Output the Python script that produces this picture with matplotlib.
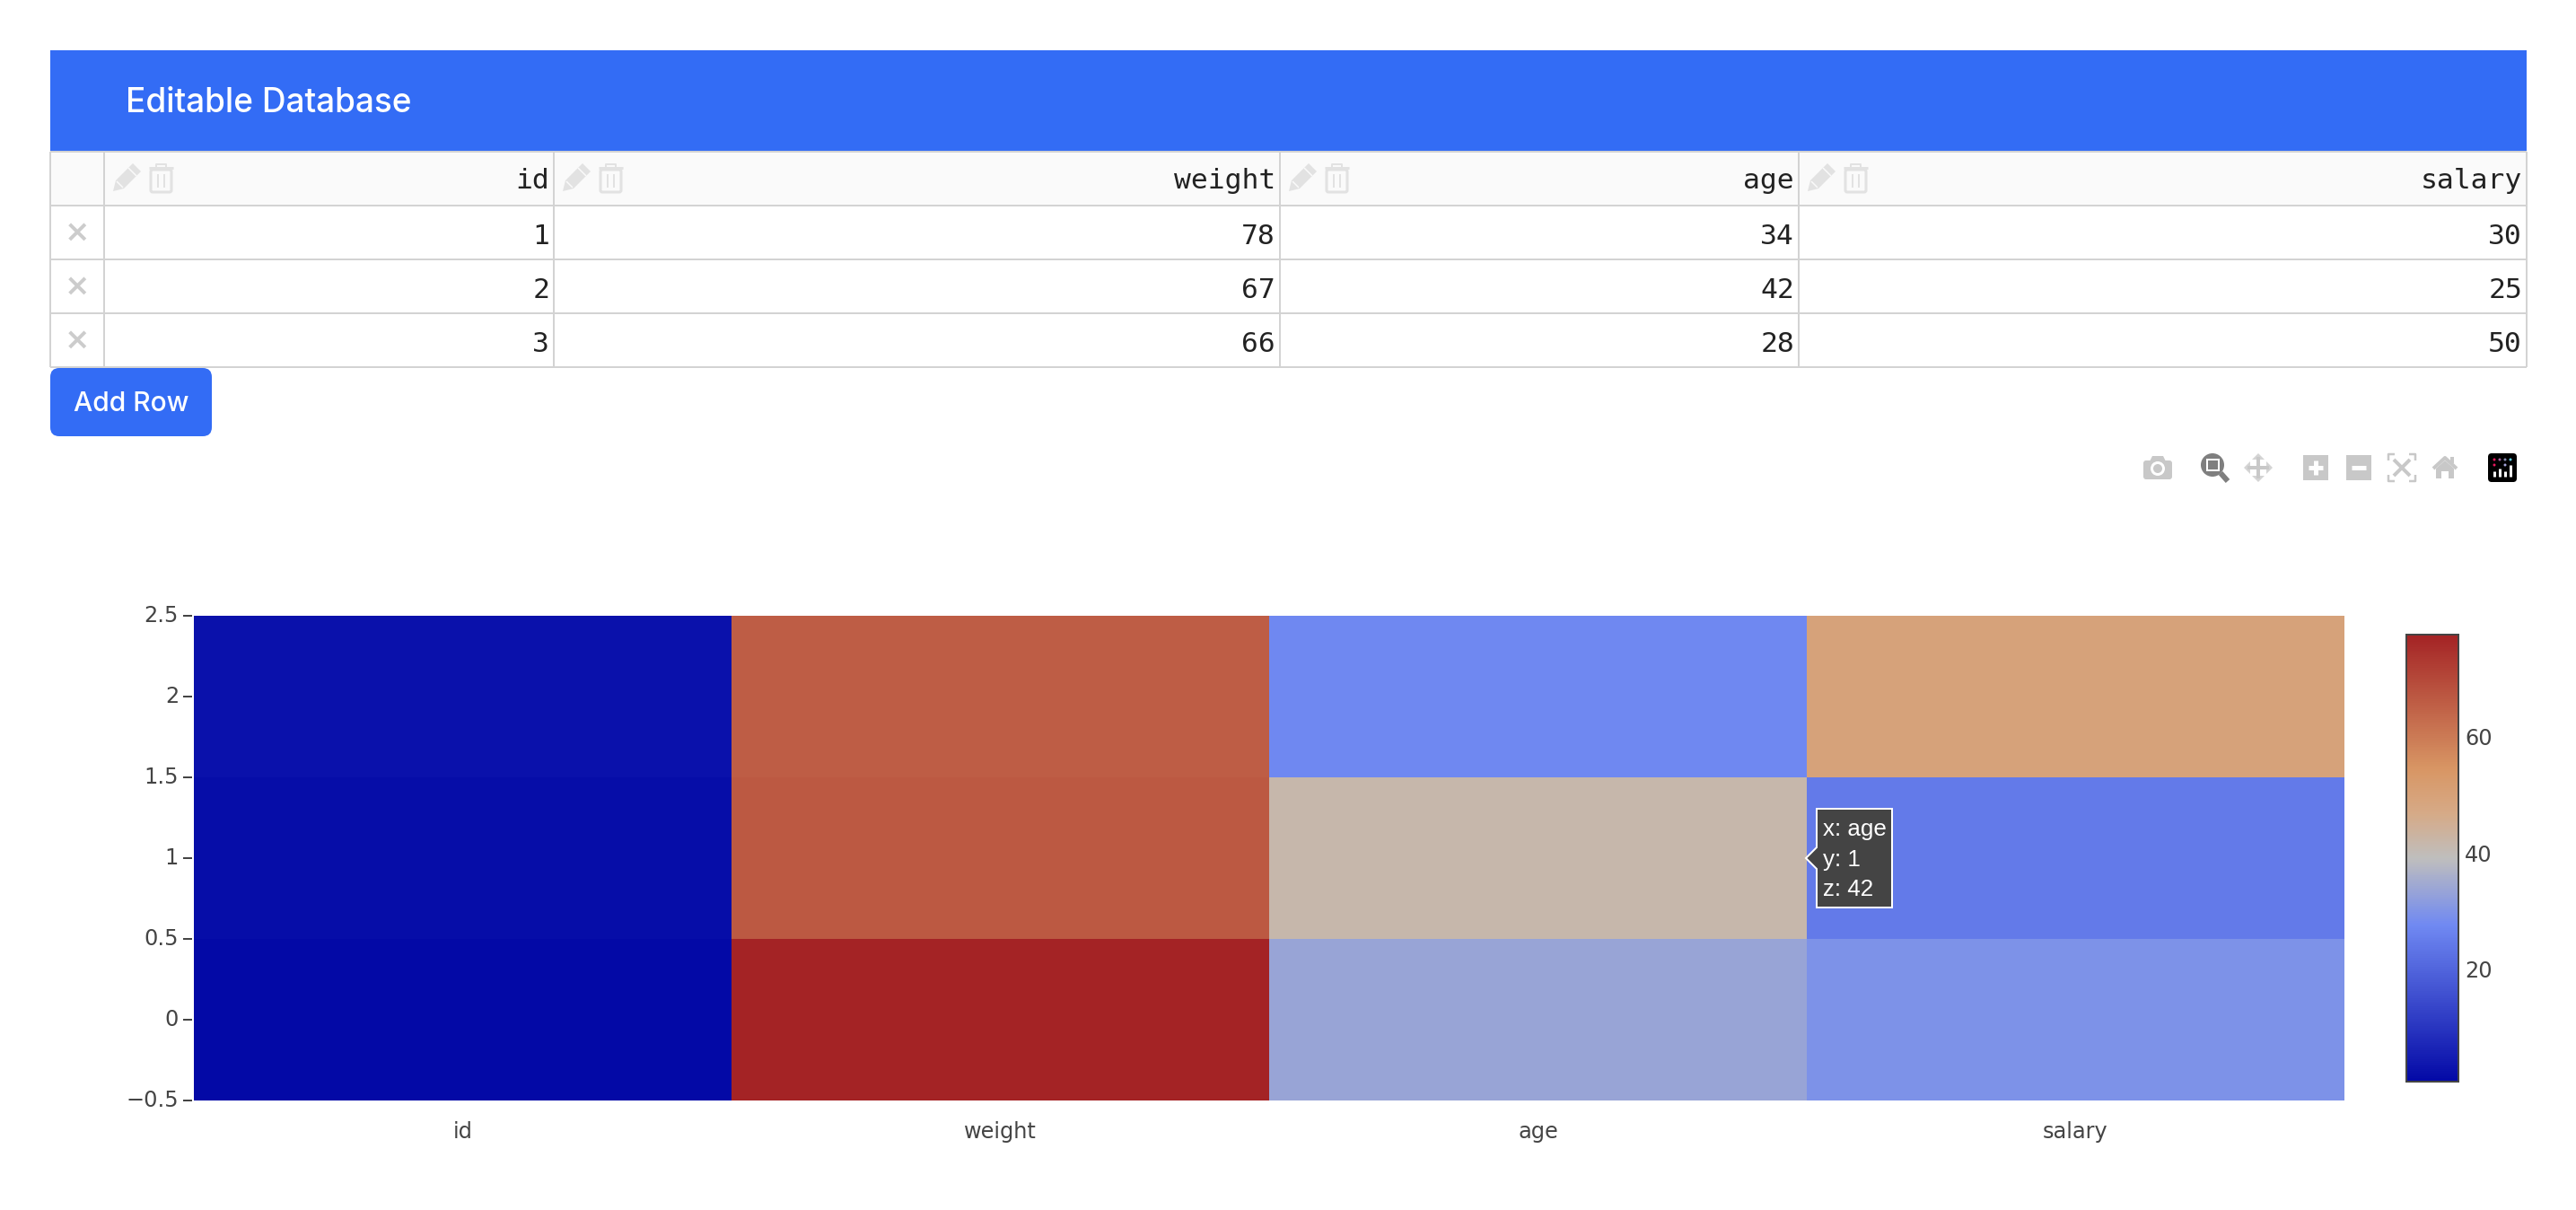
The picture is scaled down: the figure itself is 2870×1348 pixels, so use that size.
import numpy as np
import matplotlib
matplotlib.use('Agg')
import matplotlib.pyplot as plt
from matplotlib.colors import LinearSegmentedColormap
from matplotlib.patches import Rectangle, Circle, Polygon, FancyBboxPatch
from matplotlib.transforms import ScaledTranslation

# table data
columns = ['id', 'weight', 'age', 'salary']
ids = [1, 2, 3]
weights = [78, 67, 66]
ages = [34, 42, 28]
salaries = [30, 25, 50]

# heatmap axis labels
y_ticks = [-0.5, 0, 0.5, 1, 1.5, 2, 2.5]
y_labels = ['\u22120.5', '0', '0.5', '1', '1.5', '2', '2.5']
bar_ticks = [20, 40, 60]
hover_lines = ['x: age', 'y: 1', 'z: 42']

# plotly RdBu, colours as they look in the screenshot
scale_stops = [0, 0.35, 0.5, 0.6, 0.7, 1]
scale_colors = ['#0309a6', '#7089f2', '#bfbebd', '#d6aa87', '#d89664', '#a42325']

W, H = 2870, 1348
PX = 0.72  # one pixel in points at dpi 100
BLUE = '#336cf5'
LINE = '#d3d3d3'
ICON = '#c8c8c8'
TEXT = '#444444'

fig = plt.figure(figsize=(W / 100, H / 100), dpi=100, facecolor='white')

# Heatmap
z = np.array([ids, weights, ages, salaries]).T
cmap = LinearSegmentedColormap.from_list('plotly_rdbu', list(zip(scale_stops, scale_colors)))

ax = fig.add_axes([216 / W, 1 - 1226 / H, 2396 / W, 540 / H])
im = ax.imshow(z, origin='lower', aspect='auto', cmap=cmap, vmin=1, vmax=78, interpolation='nearest')
for side in ax.spines:
    ax.spines[side].set_visible(False)
ax.spines['left'].set_position(('outward', 2 * PX))
ax.set_xticks(range(len(columns)))
ax.set_xticklabels(columns)
ax.set_yticks(y_ticks)
ax.set_yticklabels(y_labels)
ax.tick_params(axis='x', length=0, pad=23 * PX, labelsize=24 * PX, labelcolor=TEXT)
ax.tick_params(axis='y', length=10 * PX, width=2 * PX, color=TEXT, pad=5 * PX, labelsize=24 * PX, labelcolor=TEXT)

# Colorbar
cax = fig.add_axes([2681 / W, 1 - 1205 / H, 58 / W, 498 / H])
cbar = fig.colorbar(im, cax=cax)
cbar.set_ticks(bar_ticks)
cbar.ax.tick_params(length=0, pad=7 * PX, labelsize=24 * PX, labelcolor=TEXT)
cbar.outline.set_edgecolor(TEXT)
cbar.outline.set_linewidth(2 * PX)

# labels sit a touch higher than matplotlib centres them
nudge = ScaledTranslation(0, 2.5 / 100, fig.dpi_scale_trans)
for label in ax.get_yticklabels() + cbar.ax.get_yticklabels():
    label.set_transform(label.get_transform() + nudge)

# Page around the chart, drawn in pixel coordinates
page = fig.add_axes([0, 0, 1, 1], zorder=5)
page.set_xlim(0, W)
page.set_ylim(H, 0)
page.axis('off')
page.patch.set_alpha(0)


def box(x0, y0, x1, y1, color, **kw):
    page.add_patch(Rectangle((x0, y0), x1 - x0, y1 - y0, facecolor=color, edgecolor='none', **kw))


def round_box(x0, y0, x1, y1, r, color):
    page.add_patch(FancyBboxPatch((x0, y0), x1 - x0, y1 - y0, boxstyle=f'round,pad=0,rounding_size={r}',
                                  facecolor=color, edgecolor='none'))


def line(xs, ys, color, width):
    page.plot(xs, ys, color=color, lw=width * PX, solid_capstyle='butt')


def poly(points, color):
    page.add_patch(Polygon(points, closed=True, facecolor=color, edgecolor='none'))


# title bar
box(56, 56, 2815, 168, BLUE)
page.text(140, 115, 'Editable Database', color='white', family='Inter', fontweight='medium',
          fontsize=37 * PX, va='center')

# table
col_edges = [116, 617, 1426, 2004, 2815]
row_edges = [169, 229, 289, 349, 409]
box(56, row_edges[0], col_edges[-1], row_edges[1], '#fafafa')
for y in row_edges:
    line([56, col_edges[-1]], [y, y], LINE, 2)
for x in [56] + col_edges:
    line([x, x], [row_edges[0], row_edges[-1]], LINE, 2)

row_values = [ids, weights, ages, salaries]
for c, name in enumerate(columns):
    left, right = col_edges[c], col_edges[c + 1]
    page.text(right - 5, 202, name, family='DejaVu Sans Mono', fontsize=31.4 * PX, color='#222222',
              ha='right', va='center')
    for r in range(len(ids)):
        page.text(right - 5, 263 + 60 * r, str(row_values[c][r]), family='DejaVu Sans Mono', fontsize=31.4 * PX,
                  color='#222222', ha='right', va='center')
    # pencil
    gray = '#e2e2e2'
    poly([(left + 10, 213), (left + 13, 201), (left + 32, 182), (left + 41, 191), (left + 22, 210)], gray)
    line([left + 14, left + 21], [202, 209], '#fafafa', 1.5)
    line([left + 27, left + 36], [187, 196], '#fafafa', 1.5)
    # bin
    page.add_patch(FancyBboxPatch((left + 52, 189), 23, 25, boxstyle='round,pad=0,rounding_size=2',
                                  facecolor='none', edgecolor=gray, lw=3 * PX))
    line([left + 50, left + 77], [187, 187], gray, 3)
    line([left + 58, left + 58, left + 69, left + 69], [187, 183, 183, 187], gray, 2)
    line([left + 60, left + 60], [194, 209], gray, 2)
    line([left + 67, left + 67], [194, 209], gray, 2)

for r in range(len(ids)):
    page.text(86, 259 + 60 * r, '\u00d7', family='DejaVu Sans', fontweight='bold', fontsize=34 * PX, color='#cccccc',
              ha='center', va='center')

# button
round_box(56, 410, 236, 486, 10, BLUE)
page.text(146, 450, 'Add Row', color='white', family='Inter', fontweight='medium', fontsize=30 * PX,
          ha='center', va='center')

# modebar: camera
round_box(2388, 513, 2420, 534, 3, ICON)
poly([(2395, 514), (2398, 508), (2410, 508), (2413, 514)], ICON)
page.add_patch(Circle((2404, 522), 8, facecolor='white', edgecolor='none'))
page.add_patch(Circle((2404, 522), 5, facecolor=ICON, edgecolor='none'))

# zoom (active)
ACTIVE = '#7f7f7f'
page.add_patch(Circle((2465, 518), 13, facecolor=ACTIVE, edgecolor='none'))
box(2458, 511, 2473, 525, 'white')
box(2460, 513, 2471, 523, ACTIVE)
line([2474, 2482], [527, 536], ACTIVE, 6)

# pan
line([2504, 2528], [521, 521], ICON, 4)
line([2516, 2516], [509, 533], ICON, 4)
poly([(2500, 521), (2507, 514), (2507, 528)], '#d4d4d4')
poly([(2532, 521), (2525, 514), (2525, 528)], '#d4d4d4')
poly([(2516, 505), (2509, 512), (2523, 512)], '#d4d4d4')
poly([(2516, 537), (2509, 530), (2523, 530)], '#d4d4d4')

# zoom in / zoom out
box(2566, 507, 2594, 535, ICON)
line([2572, 2588], [521, 521], 'white', 5)
line([2580, 2580], [513, 529], 'white', 5)
box(2614, 507, 2642, 535, ICON)
line([2620, 2636], [521, 521], 'white', 5)

# autoscale
for cx, sx in [(2660, 1), (2692, -1)]:
    for cy, sy in [(505, 1), (537, -1)]:
        line([cx + 8 * sx, cx + sx, cx + sx], [cy + sy, cy + sy, cy + 8 * sy], ICON, 2.5)
line([2667, 2685], [512, 530], ICON, 4)
line([2667, 2685], [530, 512], ICON, 4)

# home
line([2711, 2724, 2737], [522, 510, 522], ICON, 4)
line([2732, 2732], [509, 516], ICON, 4)
poly([(2714, 522), (2724, 513), (2734, 522), (2734, 533), (2714, 533)], ICON)
box(2720, 525, 2728, 533, 'white')

# plotly logo
round_box(2772, 505, 2804, 537, 4, 'black')
logo_x = [2779, 2785, 2791, 2797]
logo_dots = ['#e8175d', '#a3629f', '#8a8fb5', '#62d2e8']
logo_tops = [525, 522, 525, 518]
for x, dot, top in zip(logo_x, logo_dots, logo_tops):
    page.add_patch(Circle((x, 512), 1.5, facecolor=dot, edgecolor='none'))
    line([x, x], [top, 531], 'white', 3)
page.add_patch(Circle((2779, 518), 1.5, facecolor='#e8175d', edgecolor='none'))
page.add_patch(Circle((2791, 518), 1.5, facecolor='#a3a3d8', edgecolor='none'))

# hover label
page.add_patch(Polygon([(2012, 956), (2024, 944), (2024, 901), (2108, 901), (2108, 1011), (2024, 1011), (2024, 968)],
                       closed=True, facecolor='#444444', edgecolor='white', lw=2 * PX))
for i, txt in enumerate(hover_lines):
    page.text(2031, 924 + 33.5 * i, txt, family='Liberation Sans', fontsize=26 * PX, color='white', va='center')

fig.savefig('out.png', dpi=100)
